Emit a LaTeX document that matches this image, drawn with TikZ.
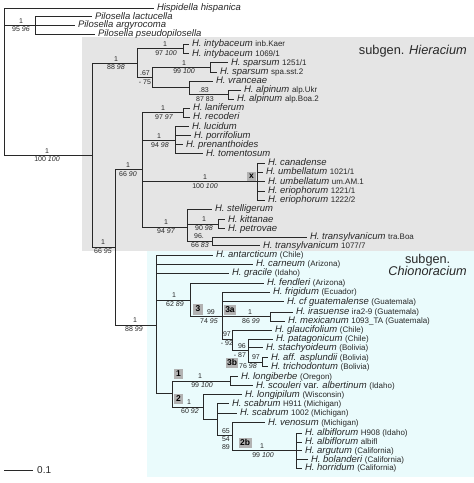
\documentclass[tikz,border=0pt]{standalone}
\usepackage{fontspec}
\setmainfont{Liberation Sans}
\definecolor{greybg}{RGB}{229,229,229}
\definecolor{cyanbg}{RGB}{234,251,252}
\definecolor{tagfill}{RGB}{178,178,178}
\definecolor{ink}{RGB}{40,40,40}
\newcommand\cd[1]{{\upshape\fontsize{8}{9}\selectfont #1}}
\newcommand\lf[4]{\node[leaf] (#1) at (#2,#3) {#4};}
\newcommand\bi[2]{\draw[tree] (#1) |- (#2);}
\newcommand\bl[2]{\draw[tree] (#1) |- (#2.west);}
\newcommand\lb[4]{\node[lab] (#1) at (#2,#3) {#4};}
\newcommand\tg[5]{\node[tag, minimum width=#4pt, minimum height=#5pt] (#1) at (#2,#3) {\ifx#1\relax\fi};}
\begin{document}
\begin{tikzpicture}[x=1pt,y=-1pt,
  tree/.style={draw=ink, line width=0.8pt},
  leaf/.style={anchor=west, inner xsep=3pt, inner ysep=0pt, outer sep=0pt, text height=6.8pt, text depth=1.8pt, font=\fontsize{9.5}{11}\selectfont\itshape, text=ink},
  lab/.style={inner sep=0pt, font=\fontsize{7}{8}\selectfont, text=ink},
  tag/.style={fill=tagfill, inner sep=0pt, font=\fontsize{8.5}{9}\selectfont\bfseries, text=black}]
\useasboundingbox (0,0) rectangle (474,483);
\fill[greybg] (82,37) rectangle (474,251);
\fill[cyanbg] (147,251) rectangle (474,477);
% internal nodes
\coordinate (R) at (4,81);
\coordinate (P) at (35,25);
\coordinate (M) at (92,155);
\coordinate (N1) at (137,63.25);
\coordinate (INT) at (183,48.75);
\coordinate (N3) at (152,77.5);
\coordinate (SPA) at (210,67.25);
\coordinate (VA) at (189,87.75);
\coordinate (ALP) at (228,94.5);
\coordinate (N2) at (115,247);
\coordinate (N4) at (142,169.5);
\coordinate (LR) at (183,112.5);
\coordinate (LUC) at (175,140.5);
\coordinate (CAN) at (257,181.5);
\coordinate (STE) at (187,227);
\coordinate (KP) at (218,224);
\coordinate (TRA) at (212,241.25);
\coordinate (CH) at (156,325);
\coordinate (A) at (190,300);
\coordinate (B) at (222,316.5);
\coordinate (IM) at (270,316.5);
\coordinate (C) at (232,339);
\coordinate (D) at (248,350.5);
\coordinate (E) at (262,362);
\coordinate (OG) at (172,393);
\coordinate (C1) at (230,381);
\coordinate (F) at (203,407);
\coordinate (G) at (217,419);
\coordinate (H) at (232,435.5);
\coordinate (B2) at (296,450.5);
% leaves
\lf{hisp}{154}{8}{Hispidella hispanica}
\lf{lact}{92}{16.5}{Pilosella lactucella}
\lf{argy}{75}{25}{Pilosella argyrocoma}
\lf{pseu}{95}{34}{Pilosella pseudopilosella}
\lf{inb}{189}{44}{H. intybaceum \cd{inb.Kaer}}
\lf{i1069}{189}{53.5}{H. intybaceum \cd{1069/1}}
\lf{s1251}{228}{62.5}{H. sparsum \cd{1251/1}}
\lf{ssst}{217}{72}{H. sparsum \cd{spa.sst.2}}
\lf{vran}{213}{81}{H. vranceae}
\lf{aukr}{241}{90}{H. alpinum \cd{alp.Ukr}}
\lf{aboa}{234}{99}{H. alpinum \cd{alp.Boa.2}}
\lf{lani}{190}{108}{H. laniferum}
\lf{reco}{190}{117}{H. recoderi}
\lf{luci}{189}{126.5}{H. lucidum}
\lf{porr}{191}{135.5}{H. porrifolium}
\lf{pren}{183}{144.5}{H. prenanthoides}
\lf{tome}{203}{153.5}{H. tomentosum}
\lf{cana}{265}{163}{H. canadense}
\lf{u1021}{263}{172}{H. umbellatum \cd{1021/1}}
\lf{uam}{265}{181.5}{H. umbellatum \cd{um.AM.1}}
\lf{e1221}{265}{191}{H. eriophorum \cd{1221/1}}
\lf{e1222}{265}{200}{H. eriophorum \cd{1222/2}}
\lf{stel}{212}{209}{H. stelligerum}
\lf{kitt}{225}{219.5}{H. kittanae}
\lf{petr}{225}{228.5}{H. petrovae}
\lf{tboa}{307}{237}{H. transylvanicum \cd{tra.Boa}}
\lf{t1077}{260}{245.5}{H. transylvanicum \cd{1077/7}}
\lf{anta}{213}{255}{H. antarcticum \cd{(Chile)}}
\lf{carn}{253}{264}{H. carneum \cd{(Arizona)}}
\lf{grac}{229}{273}{H. gracile \cd{(Idaho)}}
\lf{fend}{264}{283}{H. fendleri \cd{(Arizona)}}
\lf{frig}{270}{292}{H. frigidum \cd{(Ecuador)}}
\lf{guat}{284}{301.5}{H. cf guatemalense \cd{(Guatemala)}}
\lf{iras}{293}{312}{H. irasuense \cd{ira2-9 (Guatemala)}}
\lf{mexi}{285}{321}{H. mexicanum \cd{1093\_TA (Guatemala)}}
\lf{glau}{272}{330}{H. glaucifolium \cd{(Chile)}}
\lf{pata}{273}{339}{H. patagonicum \cd{(Chile)}}
\lf{stac}{263}{347.5}{H. stachyoideum \cd{(Bolivia)}}
\lf{aspl}{268}{357.5}{H. aff. asplundii \cd{(Bolivia)}}
\lf{tric}{268}{366.5}{H. trichodontum \cd{(Bolivia)}}
\lf{lgib}{238}{376.5}{H. longiberbe \cd{(Oregon)}}
\lf{scou}{253}{385.5}{H. scouleri {\upshape var.} albertinum \cd{(Idaho)}}
\lf{lgip}{242}{394.5}{H. longipilum \cd{(Wisconsin)}}
\lf{s911}{229}{403.5}{H. scabrum \cd{H911 (Michigan)}}
\lf{s1002}{237}{413}{H. scabrum \cd{1002 (Michigan)}}
\lf{veno}{265}{422.5}{H. venosum \cd{(Michigan)}}
\lf{a908}{302}{433}{H. albiflorum \cd{H908 (Idaho)}}
\lf{aalb}{302}{442}{H. albiflorum \cd{albifl}}
\lf{argu}{302}{450.5}{H. argutum \cd{(California)}}
\lf{bola}{308}{459.5}{H. bolanderi \cd{(California)}}
\lf{horr}{302}{468}{H. horridum \cd{(California)}}
% branches
\bl{R}{hisp} \bi{R}{P} \bi{R}{M}
\bl{P}{lact} \bl{P}{argy} \bl{P}{pseu}
\bi{M}{N1} \bi{M}{N2}
\bi{N1}{INT} \bi{N1}{N3}
\bl{INT}{inb} \bl{INT}{i1069}
\bi{N3}{SPA} \bi{N3}{VA}
\bl{SPA}{s1251} \bl{SPA}{ssst}
\bl{VA}{vran} \bi{VA}{ALP}
\bl{ALP}{aukr} \bl{ALP}{aboa}
\bi{N2}{N4} \bi{N2}{CH}
\bi{N4}{LR} \bi{N4}{LUC} \bi{N4}{CAN} \bi{N4}{STE}
\bl{LR}{lani} \bl{LR}{reco}
\bl{LUC}{luci} \bl{LUC}{porr} \bl{LUC}{pren} \bl{LUC}{tome}
\bl{CAN}{cana} \bl{CAN}{u1021} \bl{CAN}{uam} \bl{CAN}{e1221} \bl{CAN}{e1222}
\bl{STE}{stel} \bi{STE}{KP} \bi{STE}{TRA}
\bl{KP}{kitt} \bl{KP}{petr}
\bl{TRA}{tboa} \bl{TRA}{t1077}
\bl{CH}{anta} \bl{CH}{carn} \bl{CH}{grac} \bi{CH}{A} \bi{CH}{OG}
\bl{A}{fend} \bi{A}{B}
\bl{B}{frig} \bl{B}{guat} \bi{B}{IM} \bi{B}{C}
\bl{IM}{iras} \bl{IM}{mexi}
\bl{C}{glau} \bi{C}{D}
\bl{D}{pata} \bl{D}{stac} \bi{D}{E}
\bl{E}{aspl} \bl{E}{tric}
\bi{OG}{C1} \bi{OG}{F}
\bl{C1}{lgib} \bl{C1}{scou}
\bl{F}{lgip} \bi{F}{G}
\bl{G}{s911} \bl{G}{s1002} \bi{G}{H}
\bl{H}{veno} \bi{H}{B2}
\bl{B2}{a908} \bl{B2}{aalb} \bl{B2}{argu} \bl{B2}{bola} \bl{B2}{horr}
% support labels
\lb{Pt}{21}{21}{1} \lb{Pb}{21}{29}{95 \textit{96}}
\lb{Mt}{47}{151}{1} \lb{Mb}{47}{159}{100 \textit{100}}
\lb{N1t}{116}{59}{1} \lb{N1b}{116}{67.5}{88 \textit{98}}
\lb{INTt}{165}{44.5}{1} \lb{INTb}{166}{53}{97 \textit{100}}
\lb{N3t}{145}{73}{.67} \lb{N3b}{145}{82}{- 75}
\lb{SPAt}{184}{63}{1} \lb{SPAb}{184}{71.5}{99 \textit{100}}
\lb{ALPt}{204}{90}{.83} \lb{ALPb}{205}{99}{87 83}
\lb{N4t}{128}{165}{1} \lb{N4b}{128}{174}{66 \textit{90}}
\lb{LRt}{163}{108}{1} \lb{LRb}{164}{117}{97 \textit{97}}
\lb{LUCt}{159}{136}{1} \lb{LUCb}{160}{145}{94 \textit{98}}
\lb{CANt}{205}{177}{1} \lb{CANb}{205}{186}{100 \textit{100}}
\lb{STEt}{166}{222.5}{1} \lb{STEb}{166}{231.5}{94 \textit{97}}
\lb{KPt}{204}{219.5}{1} \lb{KPb}{204}{228.5}{90 \textit{98}}
\lb{TRAt}{199}{236.5}{96.} \lb{TRAb}{200}{245.5}{66 \textit{83}}
\lb{N2t}{103}{242.5}{1} \lb{N2b}{103}{251.5}{66 \textit{95}}
\lb{CHt}{135}{320.5}{1} \lb{CHb}{134}{329.5}{88 \textit{99}}
\lb{At}{174}{295.5}{1} \lb{Ab}{175}{304.5}{62 \textit{89}}
\lb{Bt}{211}{312}{99} \lb{Bb}{209}{321}{74 \textit{95}}
\lb{IMt}{250}{312}{1} \lb{IMb}{251}{321}{86 \textit{99}}
\lb{Ct}{227}{334.5}{97} \lb{Cb}{227}{343.5}{- 92}
\lb{Dt}{242}{346}{96} \lb{Db}{240}{355}{- 87}
\lb{Et}{256}{357.5}{97} \lb{Eb}{248}{366.5}{76 \textit{98}}
\lb{C1t}{200}{376.5}{1} \lb{C1b}{202}{385.5}{99 \textit{100}}
\lb{Ft}{189}{402.5}{1} \lb{Fb}{190}{411.5}{60 \textit{92}}
\lb{Ht}{226}{431}{65} \lb{Hb}{226}{439.5}{54} \lb{Hc}{226}{447.5}{89}
\lb{B2t}{262}{446}{1} \lb{B2b}{263}{455}{99 \textit{100}}
% clade tags
\node[tag, minimum width=9pt, minimum height=9pt] (tx) at (251.5,176) {x};
\node[tag, minimum width=10pt, minimum height=11pt] (t3) at (198,309) {3};
\node[tag, minimum width=12pt, minimum height=10pt] (t3a) at (230,309.5) {3a};
\node[tag, minimum width=12pt, minimum height=10pt] (t3b) at (232,362.5) {3b};
\node[tag, minimum width=9pt, minimum height=10pt] (t1) at (178.5,373.5) {1};
\node[tag, minimum width=9pt, minimum height=10pt] (t2) at (178.5,399) {2};
\node[tag, minimum width=13pt, minimum height=10pt] (t2b) at (245,442.5) {2b};
% subgenus labels
\node[anchor=east, inner sep=0pt, font=\fontsize{12.8}{14}\selectfont, text=ink] (hier) at (467,51) {subgen. \textit{Hieracium}};
\node[anchor=east, inner sep=0pt, align=center, font=\fontsize{12.7}{12}\selectfont, text=ink] (chio) at (467,265) {subgen.\\\textit{Chionoracium}};
% scale bar
\coordinate (sb1) at (4,470);
\coordinate (sb2) at (33,470);
\draw[tree] (sb1) -- (sb2);
\node[anchor=west, inner sep=0pt, font=\fontsize{10}{11}\selectfont, text=ink] (sbl) at (37,470) {0.1};
\end{tikzpicture}
\end{document}
